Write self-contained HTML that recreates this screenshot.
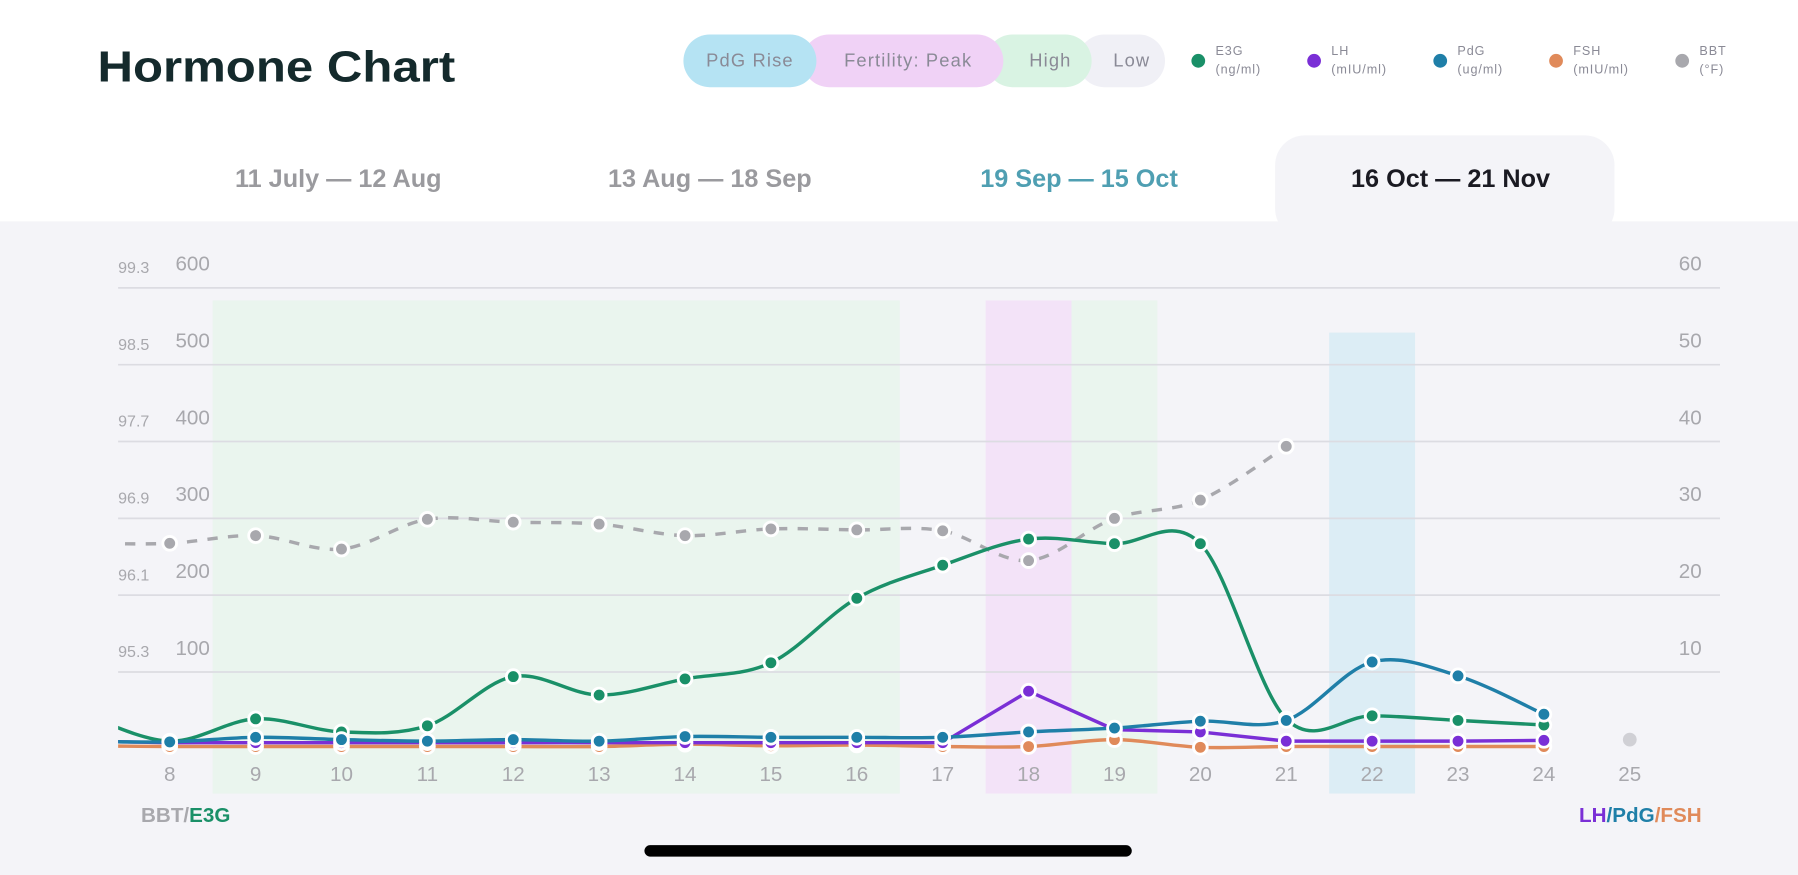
<!DOCTYPE html>
<html><head><meta charset="utf-8"><style>
html,body{margin:0;padding:0;background:#fff;}
svg{display:block;font-family:"Liberation Sans",sans-serif;}
</style></head><body>
<svg id="chart" width="1798" height="875" viewBox="0 0 1568 763" xmlns="http://www.w3.org/2000/svg">
<rect x="0" y="0" width="1568" height="763" fill="#ffffff"/>
<rect x="0" y="193" width="1568" height="570" fill="#f4f4f8"/>
<text x="85" y="71" font-size="38" font-weight="bold" fill="#142a2c" textLength="312" lengthAdjust="spacingAndGlyphs">Hormone Chart</text>
<g font-size="16" fill="#8a8a96" letter-spacing="1">
 <rect x="940" y="30" width="76" height="46" rx="23" fill="#f0f0f6"/>
 <rect x="860" y="30" width="92" height="46" rx="23" fill="#d9f3e3"/>
 <rect x="700" y="30" width="175" height="46" rx="23" fill="#f0d2f6"/>
 <rect x="596" y="30" width="116" height="46" rx="23" fill="#b5e3f3"/>
 <text x="654" y="58" text-anchor="middle">PdG Rise</text>
 <text x="792" y="58" text-anchor="middle">Fertility: Peak</text>
 <text x="916" y="58" text-anchor="middle">High</text>
 <text x="987" y="58" text-anchor="middle">Low</text>
</g>
<g font-size="11" fill="#8a8a96" letter-spacing="0.8">
 <circle cx="1045" cy="53" r="6" fill="#1a9068"/><text x="1060" y="48">E3G</text><text x="1060" y="64">(ng/ml)</text>
 <circle cx="1146" cy="53" r="6" fill="#7a2fd6"/><text x="1161" y="48">LH</text><text x="1161" y="64">(mIU/ml)</text>
 <circle cx="1256" cy="53" r="6" fill="#1f7fa8"/><text x="1271" y="48">PdG</text><text x="1271" y="64">(ug/ml)</text>
 <circle cx="1357" cy="53" r="6" fill="#e08a5a"/><text x="1372" y="48">FSH</text><text x="1372" y="64">(mIU/ml)</text>
 <circle cx="1467" cy="53" r="6" fill="#a8a8ad"/><text x="1482" y="48">BBT</text><text x="1482" y="64">(°F)</text>
</g>
<rect x="1112" y="118" width="296" height="90" rx="26" fill="#f4f4f8"/>
<g font-size="22" font-weight="bold" text-anchor="middle">
 <text x="295" y="163" fill="#9a9a9e">11 July — 12 Aug</text>
 <text x="619" y="163" fill="#9a9a9e">13 Aug — 18 Sep</text>
 <text x="941" y="163" fill="#4f9fb2">19 Sep — 15 Oct</text>
 <text x="1265" y="163" fill="#1a1a22">16 Oct — 21 Nov</text>
</g>
<g id="plot"></g>
<text x="123" y="717" font-size="18" font-weight="bold"><tspan fill="#a8a8ad">BBT/</tspan><tspan fill="#1a9068">E3G</tspan></text>
<text x="1484" y="717" font-size="18" font-weight="bold" text-anchor="end"><tspan fill="#7a2fd6">LH</tspan><tspan fill="#1f7fa8">/PdG</tspan><tspan fill="#e08a5a">/FSH</tspan></text>
<rect x="562" y="737" width="425" height="10" rx="5" fill="#000"/>
</svg>
<script>
const days = [7,8,9,10,11,12,13,14,15,16,17,18,19,20,21,22,23,24];
const bbtVals = [96.64,96.64,96.72,96.58,96.89,96.86,96.84,96.72,96.79,96.78,96.77,96.46,96.90,97.09,97.65,null,null,null];
const e3gVals = [45,10,39,22,30,94,70,91,112,196,239,273,267,267,39,43,37,31];
const lhVals = [1.0,0.8,0.8,0.8,0.8,0.8,0.8,0.8,0.8,0.8,0.8,7.5,2.5,2.2,1.0,1.0,1.0,1.1];
const pdgVals = [1.0,0.9,1.5,1.2,1.0,1.2,1.0,1.6,1.5,1.5,1.5,2.2,2.7,3.6,3.7,11.3,9.5,4.5];
const fshVals = [0.4,0.3,0.3,0.3,0.3,0.3,0.3,0.6,0.4,0.5,0.3,0.3,1.2,0.2,0.3,0.3,0.3,0.3];
const xTicks = [8,9,10,11,12,13,14,15,16,17,18,19,20,21,22,23,24,25];
const e3gTicks = [100,200,300,400,500,600];
const bbtTicks = ["95.3","96.1","96.9","97.7","98.5","99.3"];
const rightTicks = [10,20,30,40,50,60];
const extraBbtDay = 25;

const NS = "http://www.w3.org/2000/svg";
const plot = document.getElementById("plot");
const x = d => 148 + (d - 8) * 74.9;
const yE = v => 653 - v * 0.67;
const yR = v => 653 - v * 6.7;
const yB = v => 586 - (v - 95.3) / 0.8 * 67;

function el(tag, attrs, parent) {
  const e = document.createElementNS(NS, tag);
  for (const k in attrs) e.setAttribute(k, attrs[k]);
  (parent || plot).appendChild(e);
  return e;
}
// bands: [start, end, color, top]
const bands = [[8.5,16.5,"#eaf5ee",262],[17.5,18.5,"#f3e3f8",262],[18.5,19.5,"#eaf5ee",262],[21.5,22.5,"#dcedf5",290]];
bands.forEach(b => {
  const r = el("rect", {x: x(b[0]), y: b[3], width: x(b[1]) - x(b[0]), height: 692 - b[3], fill: b[2]});
  
  
});
e3gTicks.forEach((t, i) => {
  const g = el("line", {x1: 103, x2: 1500, y1: yE(t), y2: yE(t), stroke: "#dcdce2", "stroke-width": 1.5});
  
  
  const a = el("text", {x: 153, y: yE(t) - 15, "font-size": 18, fill: "#a8a8ad"}); a.textContent = t;
  
  
  const b = el("text", {x: 103, y: yE(t) - 13, "font-size": 14, fill: "#a8a8ad"}); b.textContent = bbtTicks[i];
  
  
  const c = el("text", {x: 1484, y: yR(rightTicks[i]) - 15, "font-size": 18, fill: "#a8a8ad", "text-anchor": "end"}); c.textContent = rightTicks[i];
  
  
});
xTicks.forEach(d => {
  const t = el("text", {x: x(d), y: 681, "font-size": 18, fill: "#a8a8ad", "text-anchor": "middle"}); t.textContent = d;
  
  
});
const clip = el("clipPath", {id: "pc"});
el("rect", {x: 103, y: 200, width: 1400, height: 480}, clip);

function smooth(pts) {
  let d = "M" + pts[0][0] + "," + pts[0][1];
  for (let i = 0; i < pts.length - 1; i++) {
    const p0 = pts[i - 1] || pts[i], p1 = pts[i], p2 = pts[i + 1], p3 = pts[i + 2] || p2;
    const c1 = [p1[0] + (p2[0] - p0[0]) / 6, p1[1] + (p2[1] - p0[1]) / 6];
    const c2 = [p2[0] - (p3[0] - p1[0]) / 6, p2[1] - (p3[1] - p1[1]) / 6];
    d += " C" + c1 + " " + c2 + " " + p2;
  }
  return d;
}
function series(vals, yf, color, name, dashed, curved) {
  const pts = [];
  days.forEach((d, i) => { if (vals[i] !== null) pts.push([x(d), yf(vals[i])]); });
  const path = el("path", {d: curved ? smooth(pts) : "M" + pts.map(p => p.join(",")).join(" L"), fill: "none", stroke: color, "stroke-width": 3, "clip-path": "url(#pc)", "stroke-dasharray": dashed ? "9 9" : "none"});
  
  
  pts.forEach(p => {
    if (p[0] < 120) return;
    const c = el("circle", {cx: p[0], cy: p[1], r: 6, fill: color, stroke: "#fff", "stroke-width": 2.5});
    
    
  });
}
series(bbtVals, yB, "#a8a8ad", "bbt", true, true);
series(e3gVals, yE, "#1a9068", "e3g", false, true);
series(fshVals, yR, "#e08a5a", "fsh", false, true);
series(lhVals, yR, "#7a2fd6", "lh", false, false);
series(pdgVals, yR, "#1f7fa8", "pdg", false, true);
const lone = el("circle", {cx: x(extraBbtDay), cy: 645, r: 6, fill: "#d0d0d5"});


</script>
</body></html>
